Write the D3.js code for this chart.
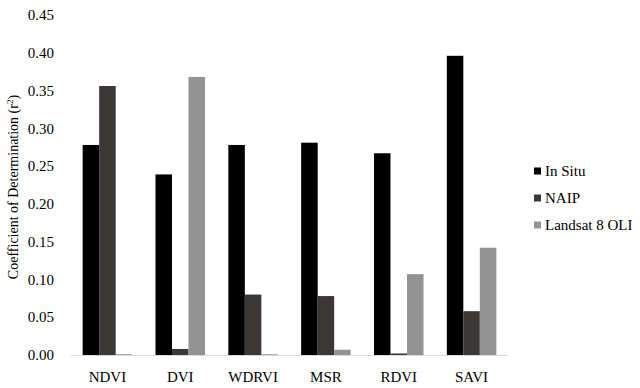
<!DOCTYPE html>
<html>
<head>
<meta charset="utf-8">
<script src="https://cdn.jsdelivr.net/npm/d3@7"></script>
<style>
  body { margin: 0; background: #fff; }
  svg { display: block; }
  svg text { font-family: "Liberation Serif", "DejaVu Serif", "Noto Serif", serif; }
</style>
</head>
<body>
<svg id="chart" width="640" height="388"></svg>
<script>
const categories = ["NDVI", "DVI", "WDRVI", "MSR", "RDVI", "SAVI"];
const seriesNames = ["In Situ", "NAIP", "Landsat 8 OLI"];
const inSitu  = [0.278, 0.239, 0.278, 0.281, 0.267, 0.396];
const naip    = [0.356, 0.008, 0.080, 0.078, 0.002, 0.058];
const landsat = [0.001, 0.368, 0.001, 0.007, 0.107, 0.142];
const yTicks  = [0, 0.05, 0.10, 0.15, 0.20, 0.25, 0.30, 0.35, 0.40, 0.45];
const colors  = ["#000000", "#3b3736", "#939393"];

const seriesValues = [inSitu, naip, landsat];
const svg = d3.select("#chart");
const mLeft = 71, mRight = 508, mTop = 15, mBottom = 355;

const x = d3.scaleBand().domain(categories).range([mLeft, mRight]).paddingInner(0.32).paddingOuter(0.16);
const xs = d3.scaleBand().domain(seriesNames).range([0, x.bandwidth()]);
const y = d3.scaleLinear().domain([0, 0.45]).range([mBottom, mTop]);

// y tick labels
svg.append("g").selectAll("text").data(yTicks).join("text")
  .attr("x", 54).attr("y", d => y(d)).attr("dy", "0.35em")
  .attr("text-anchor", "end").attr("font-size", 15).attr("fill", "#000")
  .text(d => d.toFixed(2));

// bars
const groups = svg.append("g").selectAll("g").data(seriesNames).join("g")
  .attr("fill", (d, i) => colors[i]);
groups.selectAll("rect").data((s, i) => categories.map((c, j) => ({c, s, v: seriesValues[i][j]})))
  .join("rect")
  .attr("x", d => x(d.c) + xs(d.s))
  .attr("width", xs.bandwidth())
  .attr("y", d => y(d.v))
  .attr("height", d => y(0) - y(d.v));

// x axis line
svg.append("line").attr("x1", mLeft).attr("x2", mRight).attr("y1", mBottom + 0.5).attr("y2", mBottom + 0.5)
  .attr("stroke", "#d9d9d9").attr("stroke-width", 1);

// x labels
svg.append("g").selectAll("text").data(categories).join("text")
  .attr("x", d => x(d) + x.bandwidth() / 2).attr("y", 381.5)
  .attr("text-anchor", "middle").attr("font-size", 15).attr("fill", "#000")
  .text(d => d);

// y axis title
const yt = svg.append("text")
  .attr("transform", "translate(18,187) rotate(-90)")
  .attr("text-anchor", "middle").attr("font-size", 14).attr("fill", "#000");
yt.append("tspan").text("Coefficient of Determination (r");
yt.append("tspan").attr("dy", "-5").attr("font-size", 9).text("2");
yt.append("tspan").attr("dy", "5").text(")");

// legend
const lg = svg.append("g").selectAll("g").data(seriesNames).join("g")
  .attr("transform", (d, i) => `translate(534,${171 + i * 27})`);
lg.append("rect").attr("x", 0).attr("y", -3.5).attr("width", 7).attr("height", 7)
  .attr("fill", (d, i) => colors[i]);
lg.append("text").attr("x", 11).attr("dy", "0.35em").attr("font-size", 15).attr("fill", "#000").text(d => d);
</script>
</body>
</html>
